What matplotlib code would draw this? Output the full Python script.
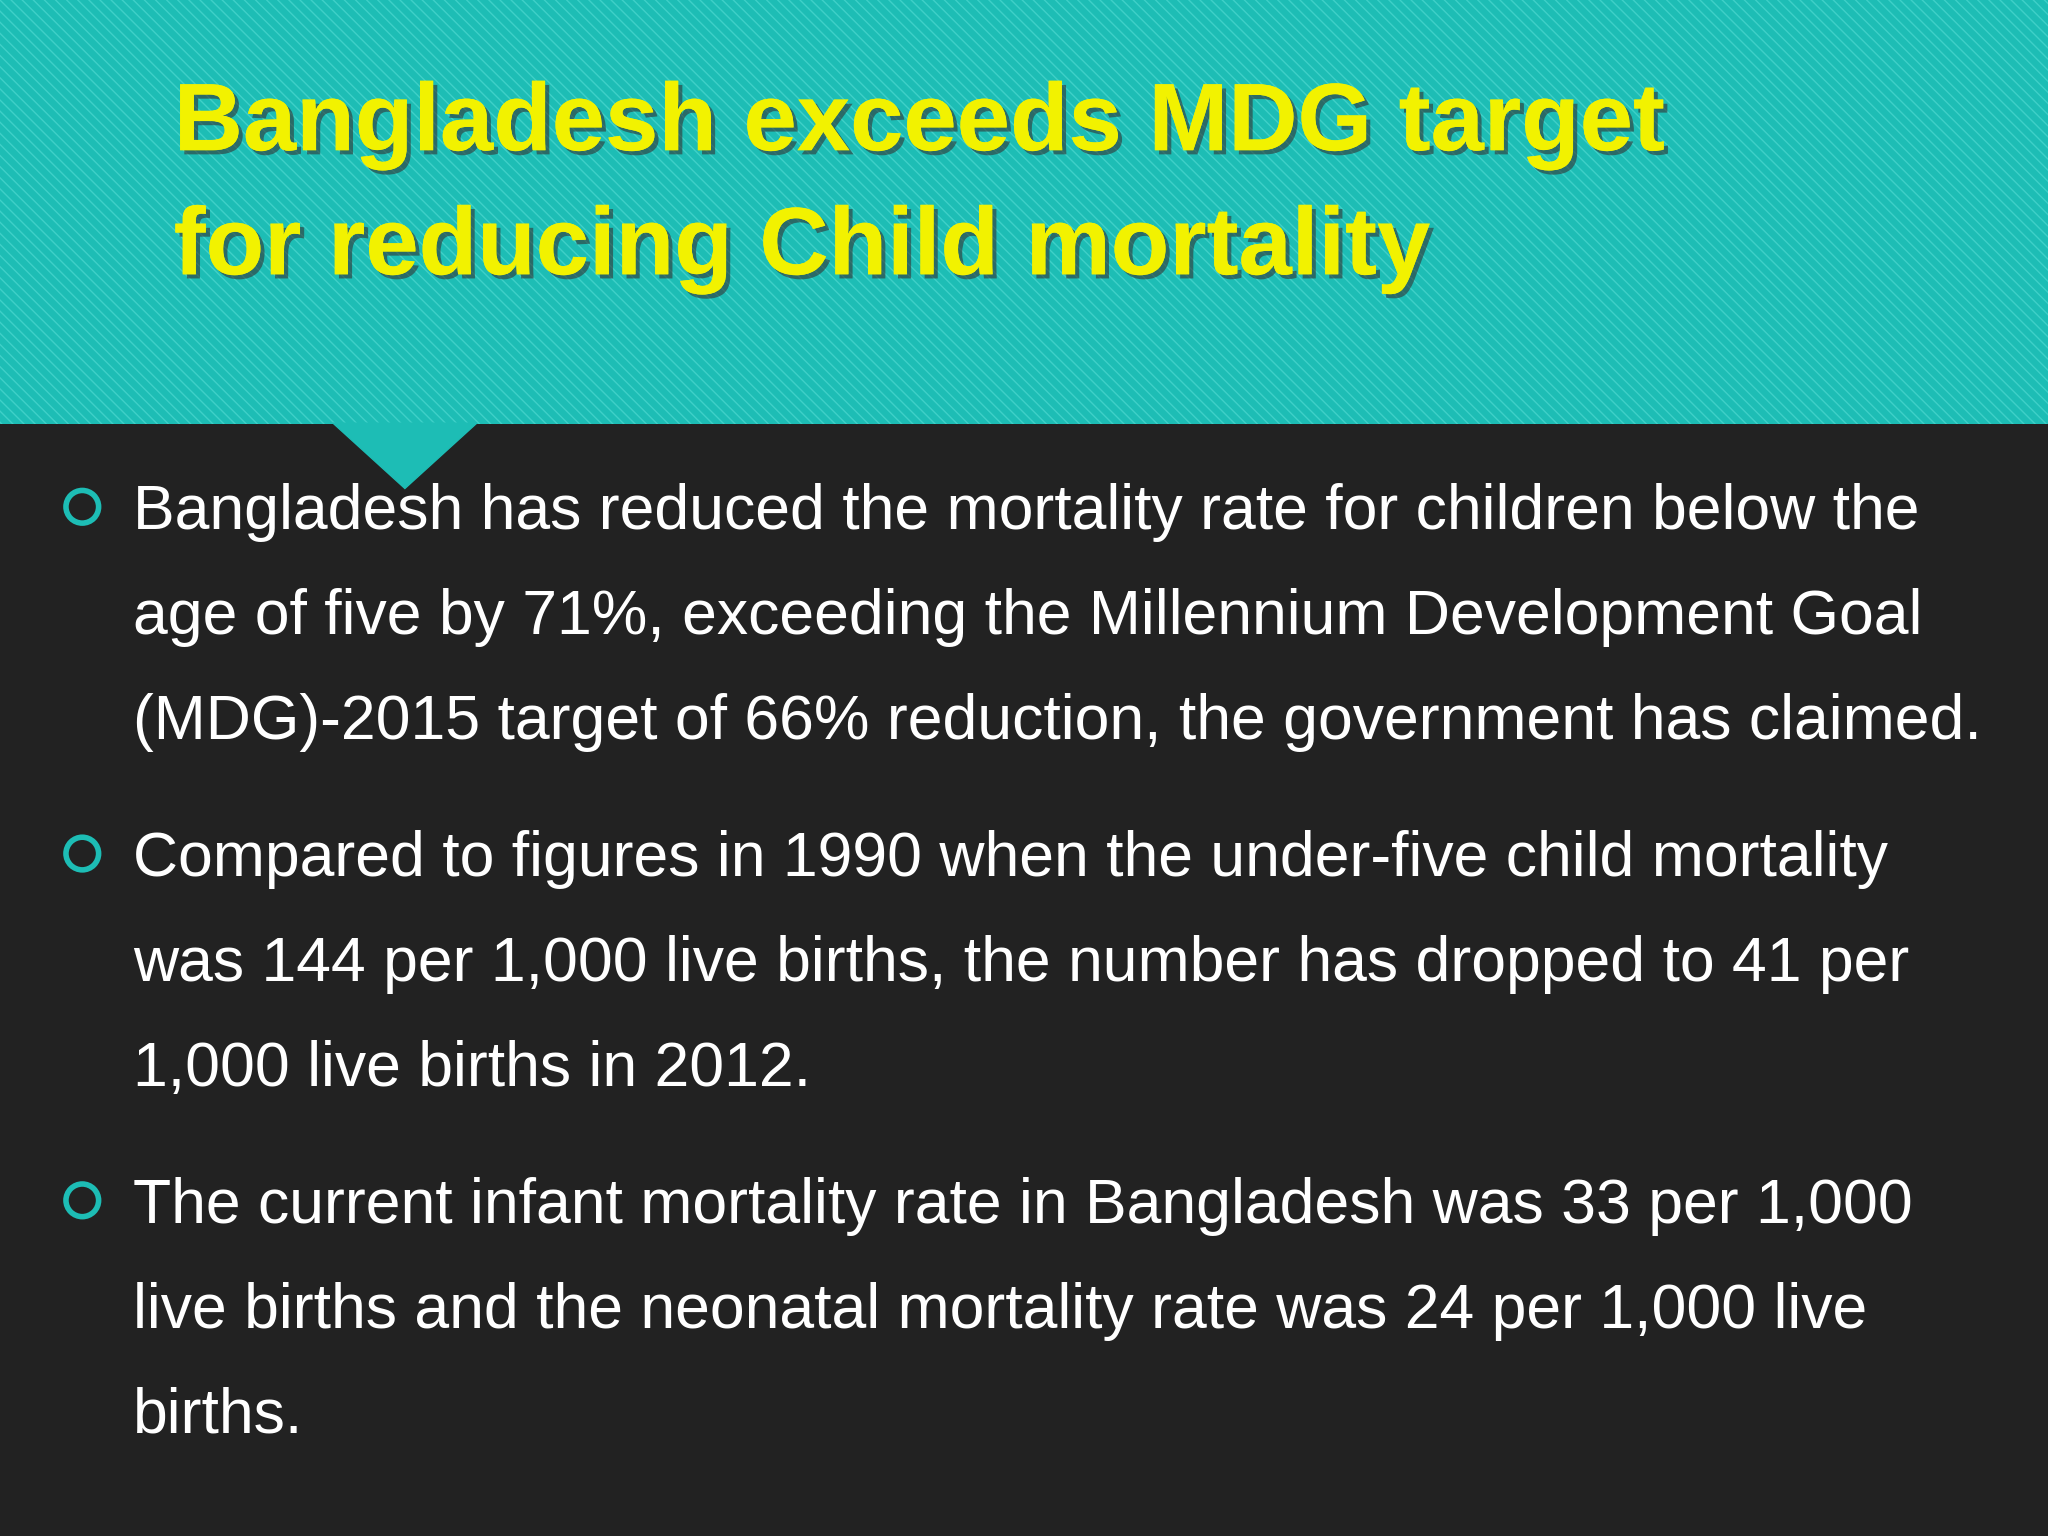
import matplotlib.pyplot as plt
import matplotlib.patheffects as pe
from matplotlib.patches import Rectangle, Polygon, Circle

plt.rcParams['font.family'] = ['Liberation Sans', 'DejaVu Sans']

# slide texts
title_lines = ['Bangladesh exceeds MDG target', 'for reducing Child mortality']
bullets = [
    ['Bangladesh has reduced the mortality rate for children below the',
     'age of five by 71%, exceeding the Millennium Development Goal',
     '(MDG)-2015 target of 66% reduction, the government has claimed.'],
    ['Compared to figures in 1990 when the under-five child mortality',
     'was 144 per 1,000 live births, the number has dropped to 41 per',
     '1,000 live births in 2012.'],
    ['The current infant mortality rate in Bangladesh was 33 per 1,000',
     'live births and the neonatal mortality rate was 24 per 1,000 live',
     'births.'],
]

W, H = 1568, 1176  # layout units (pixels of the slide)
fig = plt.figure(figsize=(20.48, 15.36), dpi=100)
ax = fig.add_axes([0, 0, 1, 1])
ax.set_xlim(0, W)
ax.set_ylim(H, 0)
ax.axis('off')

teal = '#1dbdb5'
ax.add_patch(Rectangle((0, 0), W, H, color='#222222', zorder=0))
ax.add_patch(Rectangle((0, 0), W, 325, facecolor=teal, edgecolor='#3fd0c8',
                       hatch='\\\\\\', linewidth=0, zorder=1))
ax.add_patch(Polygon([(255, 324), (365, 324), (310, 374)], closed=True,
                     color=teal, zorder=1))

shadow = [pe.withSimplePatchShadow(offset=(3, -3), shadow_rgbFace='#333333', alpha=0.6),
          pe.Normal()]
for i, line in enumerate(title_lines):
    ax.text(133, 115 + i * 95, line, color='#f2f200', fontsize=69,
            fontweight='bold', ha='left', va='baseline', zorder=3,
            path_effects=shadow)

y = 405
for group in bullets:
    ax.add_patch(Circle((63, y - 17), 12.5, fill=False, edgecolor=teal,
                        linewidth=4, zorder=3))
    for line in group:
        ax.text(102, y, line, color='white', fontsize=45, ha='left',
                va='baseline', zorder=3)
        y += 80.5
    y += 24

fig.savefig('out.png', dpi=100)
